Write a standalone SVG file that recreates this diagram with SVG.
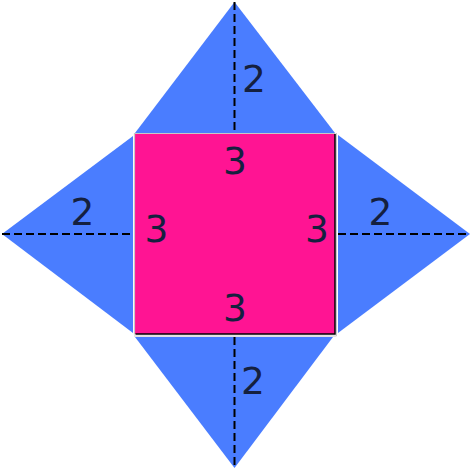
<svg xmlns="http://www.w3.org/2000/svg" width="472" height="471" viewBox="0 0 472 471">
<style>
.tri{fill:#4a7dff}
.dash{stroke:#000;stroke-width:2;stroke-dasharray:8,4;fill:none}
.lbl{font-family:"DejaVu Sans",sans-serif;font-size:37.5px;fill:#15203f;text-anchor:middle}
</style>
<rect width="472" height="471" fill="#fff"/>
<g id="top-triangle">
<polygon class="tri" points="234.5,2 135,133 335,133"/>
<text class="lbl" x="254" y="92">2</text>
</g>
<g id="right-triangle">
<polygon class="tri" points="470,234 338,135 338,333"/>
<text class="lbl" x="380.5" y="224.5">2</text>
</g>
<g id="bottom-triangle">
<polygon class="tri" points="234.5,468 135,337 333,337"/>
<text class="lbl" x="253" y="394">2</text>
</g>
<g id="left-triangle">
<polygon class="tri" points="2,234 133,136 133,333"/>
<text class="lbl" x="82.5" y="224.5">2</text>
</g>
<g id="square">
<rect x="135" y="134" width="200" height="200" fill="#ff1493"/>
<path d="M134.5,334.5 V133.5 H335.5" fill="none" stroke="#c8c8c8" stroke-width="1.2"/>
<path d="M135.5,334 H335 V134" fill="none" stroke="#000" stroke-width="1.5"/>
<path d="M134,336 H336.5 V133" fill="none" stroke="#c8c8c8" stroke-width="1"/>
<text class="lbl" x="235" y="174">3</text>
<text class="lbl" x="156.5" y="241.5">3</text>
<text class="lbl" x="317" y="241.5">3</text>
<text class="lbl" x="235" y="321">3</text>
</g>
<g id="connectors">
<line class="dash" x1="234.5" y1="2" x2="234.5" y2="133"/>
<line class="dash" x1="234.5" y1="337" x2="234.5" y2="468"/>
<line class="dash" x1="2" y1="234" x2="133" y2="234"/>
<line class="dash" x1="338" y1="234" x2="470" y2="234"/>
</g>
</svg>
